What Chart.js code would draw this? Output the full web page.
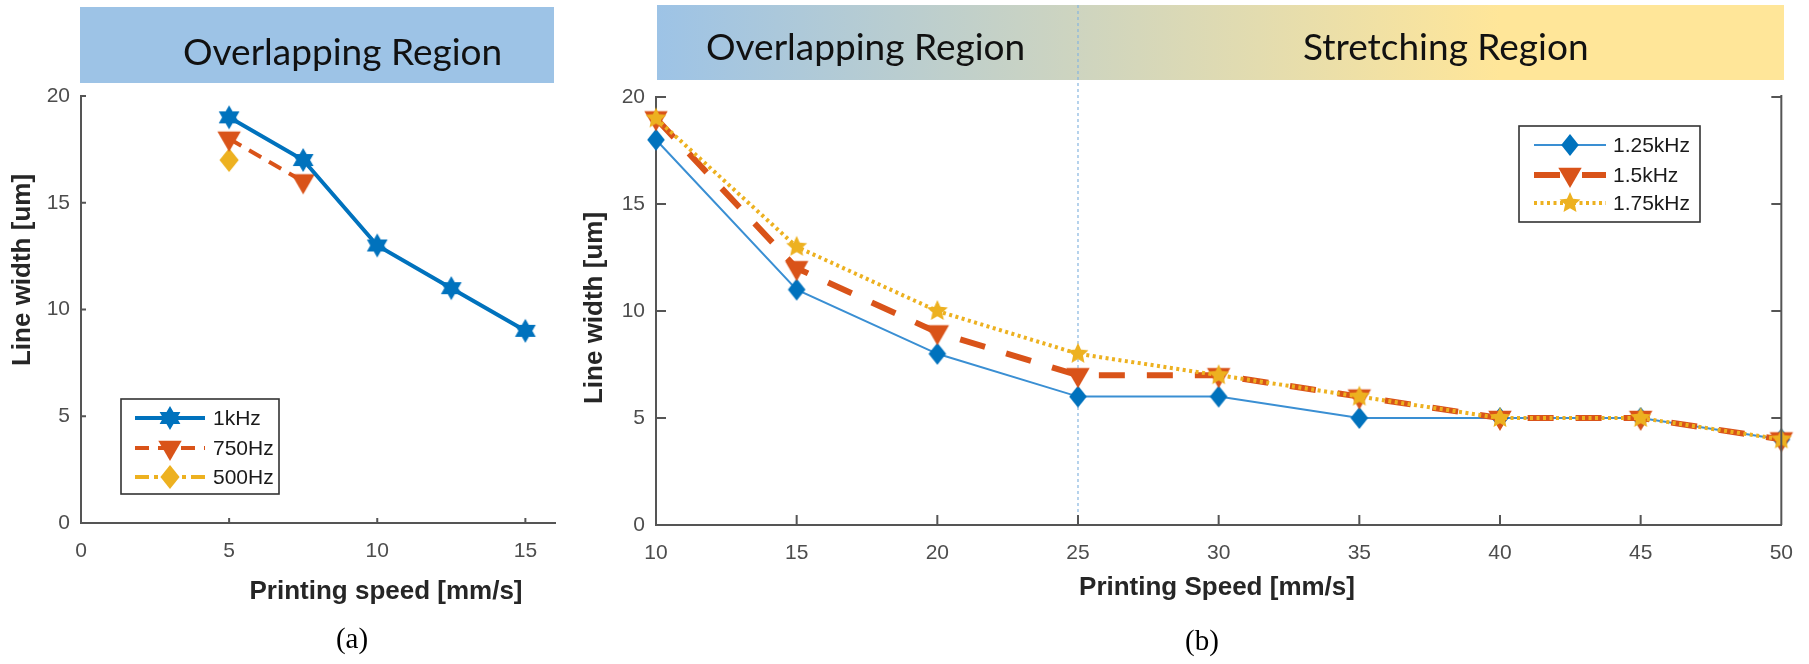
<!DOCTYPE html>
<html>
<head>
<meta charset="utf-8">
<script src="https://cdn.jsdelivr.net/npm/chart.js@4.4.1/dist/chart.umd.min.js"></script>
<style>
  html, body { margin: 0; padding: 0; background: #fff; }
  #wrap { position: relative; width: 1809px; height: 664px; overflow: hidden; }
  #ca { position: absolute; left: 0; top: 0; }
  #cb { position: absolute; left: 570px; top: 0; }
</style>
</head>
<body>
<div id="wrap">
  <canvas id="ca" width="570" height="664"></canvas>
  <canvas id="cb" width="1239" height="664"></canvas>
</div>
<script>
// panel (a)
const speedsA = [5, 7.5, 10, 12.5, 15];
const width1kHz = [19, 17, 13, 11, 9];
const speeds750Hz = [5, 7.5];
const width750Hz = [18, 16];
const speeds500Hz = [5];
const width500Hz = [17];

// panel (b)
const speedsB = [10, 15, 20, 25, 30, 35, 40, 45, 50];
const width125kHz = [18, 11, 8, 6, 6, 5, 5, 5, 4];
const width15kHz = [19, 12, 9, 7, 7, 6, 5, 5, 4];
const width175kHz = [19, 13, 10, 8, 7, 6, 5, 5, 4];

const labelsA = ['1kHz', '750Hz', '500Hz'];
const labelsB = ['1.25kHz', '1.5kHz', '1.75kHz'];

const BLUE = '#0072bd', ORANGE = '#d95319', YELLOW = '#edb120';
const TICK_FONT = { family: 'Liberation Sans', size: 21 };

function pts(xs, ys) {
  return xs.map((x, i) => ({ x: x, y: ys[i] }));
}

// filled marker shapes (matlab style)
function marker(kind, color, R) {
  const c = document.createElement('canvas');
  c.width = c.height = Math.ceil(2 * R + 2);
  const g = c.getContext('2d');
  g.translate(c.width / 2, c.height / 2);
  g.fillStyle = color;
  g.beginPath();
  if (kind === 'hex' || kind === 'pent') {
    const n = kind === 'hex' ? 6 : 5;
    const inner = kind === 'hex' ? 0.58 : 0.47;
    for (let i = 0; i < 2 * n; i++) {
      const a = -Math.PI / 2 + i * Math.PI / n;
      const r = i % 2 ? R * inner : R;
      g.lineTo(Math.cos(a) * r, Math.sin(a) * r);
    }
  } else if (kind === 'diamond') {
    g.moveTo(0, -R); g.lineTo(R * 0.8, 0); g.lineTo(0, R); g.lineTo(-R * 0.8, 0);
  } else if (kind === 'tri') {
    g.moveTo(0, R); g.lineTo(-0.9 * R, -0.55 * R); g.lineTo(0.9 * R, -0.55 * R);
  }
  g.closePath();
  g.fill();
  return c;
}

const mkA = [marker('hex', BLUE, 12), marker('tri', ORANGE, 13), marker('diamond', YELLOW, 12)];
const mkB = [marker('diamond', BLUE, 11), marker('tri', ORANGE, 13), marker('pent', YELLOW, 11)];

const decor = {
  id: 'decor',
  beforeDraw(chart, args, o) {
    const ctx = chart.ctx;
    ctx.save();
    let fill = '#9dc3e6';
    if (o.gradient) {
      fill = ctx.createLinearGradient(o.gradient[0], 0, o.gradient[1], 0);
      fill.addColorStop(0, '#9dc3e6');
      fill.addColorStop(1, '#ffe699');
    }
    ctx.fillStyle = fill;
    ctx.fillRect(o.band[0], o.band[1], o.band[2] - o.band[0], o.band[3] - o.band[1]);
    ctx.fillStyle = '#111';
    ctx.font = '37px Lato';
    ctx.textBaseline = 'alphabetic';
    o.bandTexts.forEach(t => ctx.fillText(t[0], t[1], t[2]));
    ctx.restore();
  },
  beforeDatasetsDraw(chart, args, o) {
    if (o.splitAt === undefined) return;
    const ctx = chart.ctx;
    const x = chart.scales.x.getPixelForValue(o.splitAt);
    ctx.save();
    ctx.strokeStyle = '#86b6e0';
    ctx.lineWidth = 1.2;
    ctx.setLineDash([3, 3]);
    ctx.beginPath();
    ctx.moveTo(x, o.band[1]);
    ctx.lineTo(x, chart.chartArea.bottom);
    ctx.stroke();
    ctx.restore();
  },
  afterDraw(chart, args, o) {
    const ctx = chart.ctx, ca = chart.chartArea;
    const xs = chart.scales.x, ys = chart.scales.y;
    ctx.save();
    ctx.strokeStyle = '#555';
    ctx.lineWidth = 2;
    // inward ticks
    ctx.beginPath();
    xs.ticks.forEach(t => {
      const px = xs.getPixelForValue(t.value);
      if (px > ca.left + 2 && px < ca.right - 2) {
        ctx.moveTo(px, ca.bottom); ctx.lineTo(px, ca.bottom - o.tickLen);
      }
    });
    ys.ticks.forEach(t => {
      const py = ys.getPixelForValue(t.value);
      if (py < ca.bottom - 2) {
        ctx.moveTo(ca.left, py); ctx.lineTo(ca.left + o.tickLen, py);
        if (o.rightAxis) { ctx.moveTo(ca.right, py); ctx.lineTo(ca.right - o.tickLen, py); }
      }
    });
    if (o.rightAxis) { ctx.moveTo(ca.right, ca.top - 2); ctx.lineTo(ca.right, ca.bottom); }
    ctx.stroke();

    // axis titles
    ctx.fillStyle = '#262626';
    ctx.font = 'bold 26px "Liberation Sans"';
    ctx.textAlign = 'center';
    ctx.textBaseline = 'middle';
    ctx.fillText(o.xTitle[0], o.xTitle[1], o.xTitle[2]);
    ctx.save();
    ctx.translate(o.yTitle[1], o.yTitle[2]);
    ctx.rotate(-Math.PI / 2);
    ctx.fillText(o.yTitle[0], 0, 0);
    ctx.restore();

    // panel label
    ctx.fillStyle = '#000';
    ctx.font = '29px "Liberation Serif"';
    ctx.fillText(o.panel[0], o.panel[1], o.panel[2]);

    // legend
    const L = o.legend;
    ctx.fillStyle = '#fff';
    ctx.fillRect(L.box[0], L.box[1], L.box[2] - L.box[0], L.box[3] - L.box[1]);
    ctx.strokeStyle = '#333';
    ctx.lineWidth = 1.6;
    ctx.strokeRect(L.box[0], L.box[1], L.box[2] - L.box[0], L.box[3] - L.box[1]);
    ctx.textAlign = 'left';
    ctx.font = '21px "Liberation Sans"';
    chart.data.datasets.forEach((ds, i) => {
      const y = L.rows[i];
      ctx.strokeStyle = ds.borderColor;
      ctx.lineWidth = ds.borderWidth;
      ctx.setLineDash(ds.borderDash || []);
      ctx.beginPath();
      ctx.moveTo(L.line[0], y);
      ctx.lineTo(L.line[1], y);
      ctx.stroke();
      ctx.setLineDash([]);
      const m = ds.pointStyle;
      const mx = (L.line[0] + L.line[1]) / 2;
      ctx.drawImage(m, mx - m.width / 2, y - m.height / 2);
      ctx.fillStyle = '#1a1a1a';
      ctx.fillText(ds.label, L.text, y + 1);
    });
    ctx.restore();
  }
};

function axes(xmin, xmax, yWidth, xHeight) {
  const common = {
    grid: { display: true, drawOnChartArea: false, drawTicks: false },
    border: { display: true, color: '#555', width: 2 }
  };
  return {
    x: Object.assign({}, common, {
      type: 'linear', min: xmin, max: xmax,
      afterFit(s) { s.height = xHeight; },
      ticks: { stepSize: 5, includeBounds: false, color: '#4d4d4d', font: TICK_FONT, padding: 16, maxRotation: 0 }
    }),
    y: Object.assign({}, common, {
      type: 'linear', min: 0, max: 20,
      afterFit(s) { s.width = yWidth; },
      ticks: { stepSize: 5, color: '#4d4d4d', font: TICK_FONT, padding: 11 }
    })
  };
}

new Chart(document.getElementById('ca'), {
  type: 'line',
  data: {
    datasets: [
      { label: labelsA[0], data: pts(speedsA, width1kHz), borderColor: BLUE, borderWidth: 4,
        pointStyle: mkA[0], pointRadius: 11, clip: false, order: 1 },
      { label: labelsA[1], data: pts(speeds750Hz, width750Hz), borderColor: ORANGE, borderWidth: 4,
        borderDash: [14, 9], pointStyle: mkA[1], pointRadius: 11, clip: false, order: 2 },
      { label: labelsA[2], data: pts(speeds500Hz, width500Hz), borderColor: YELLOW, borderWidth: 4,
        borderDash: [14, 5, 4, 5], pointStyle: mkA[2], pointRadius: 11, clip: false, order: 3 }
    ]
  },
  options: {
    responsive: false,
    animation: false,
    layout: { padding: { top: 96, right: 13, left: 0, bottom: 0 } },
    scales: axes(0, 16, 81, 141),
    plugins: {
      legend: { display: false },
      tooltip: { enabled: false },
      decor: {
        band: [80, 7, 554, 83],
        bandTexts: [['Overlapping Region', 183, 65]],
        tickLen: 5,
        xTitle: ['Printing speed [mm/s]', 386, 592],
        yTitle: ['Line width [um]', 23, 270],
        panel: ['(a)', 352, 640],
        legend: { box: [121, 399, 279, 494], rows: [418, 448, 477], line: [135, 205], text: 213 }
      }
    }
  },
  plugins: [decor]
});

new Chart(document.getElementById('cb'), {
  type: 'line',
  data: {
    datasets: [
      { label: labelsB[0], data: pts(speedsB, width125kHz), borderColor: '#3a8fd3', borderWidth: 2,
        pointStyle: mkB[0], pointRadius: 11, clip: false, order: 3 },
      { label: labelsB[1], data: pts(speedsB, width15kHz), borderColor: ORANGE, borderWidth: 6,
        borderDash: [26, 22], pointStyle: mkB[1], pointRadius: 11, clip: false, order: 2 },
      { label: labelsB[2], data: pts(speedsB, width175kHz), borderColor: YELLOW, borderWidth: 4,
        borderDash: [3, 3.5], pointStyle: mkB[2], pointRadius: 11, clip: false, order: 1 }
    ]
  },
  options: {
    responsive: false,
    animation: false,
    layout: { padding: { top: 97, right: 27, left: 0, bottom: 0 } },
    scales: axes(10, 50, 86, 139),
    plugins: {
      legend: { display: false },
      tooltip: { enabled: false },
      decor: {
        band: [87, 5, 1214, 80],
        gradient: [87, 930],
        bandTexts: [['Overlapping Region', 136, 60], ['Stretching Region', 733, 60]],
        splitAt: 25,
        tickLen: 10,
        rightAxis: true,
        xTitle: ['Printing Speed [mm/s]', 647, 588],
        yTitle: ['Line width [um]', 25, 308],
        panel: ['(b)', 632, 642],
        legend: { box: [949, 126, 1130, 222], rows: [145, 175, 203], line: [964, 1036], text: 1043 }
      }
    }
  },
  plugins: [decor]
});
</script>
</body>
</html>
